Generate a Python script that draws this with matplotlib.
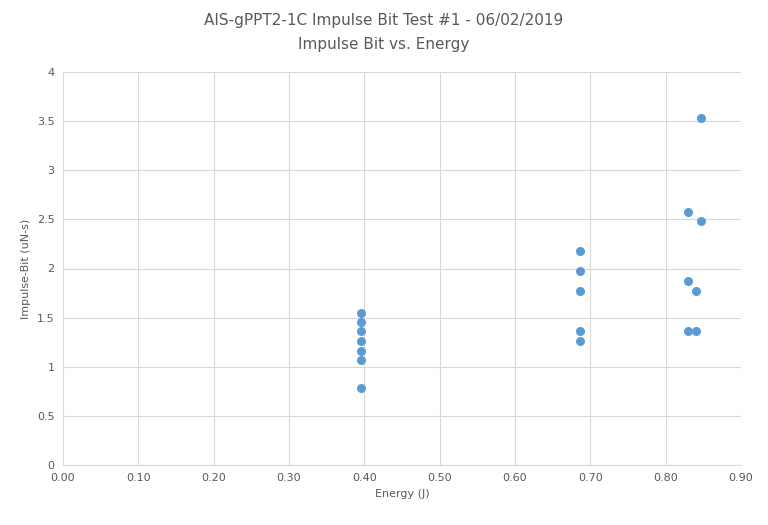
import matplotlib.pyplot as plt
from matplotlib.ticker import FormatStrFormatter

energy = [0.396]*7 + [0.686]*5 + [0.830]*3 + [0.840]*2 + [0.847]*2
impulse = [1.55, 1.46, 1.36, 1.26, 1.16, 1.07, 0.78,
           2.18, 1.97, 1.77, 1.36, 1.26,
           2.57, 1.87, 1.36,
           1.77, 1.36,
           3.53, 2.48]

fig = plt.figure(figsize=(7.68, 5.25), dpi=100)
ax = fig.add_axes([63/768, 60/525, 678/768, 393/525])
ax.scatter(energy, impulse, s=30, color='#5b9bd5', zorder=3)
ax.set_xlim(0, 0.9)
ax.set_ylim(0, 4)
ax.set_xticks([i/10 for i in range(10)])
ax.set_yticks([i/2 for i in range(9)])
ax.xaxis.set_major_formatter(FormatStrFormatter('%.2f'))
ax.set_yticklabels(['0','0.5','1','1.5','2','2.5','3','3.5','4'])
ax.grid(True, color='#d9d9d9', lw=0.8)
for s in ['top','right','left']:
    ax.spines[s].set_visible(False)
ax.spines['bottom'].set_color('#d9d9d9')
ax.tick_params(length=0, labelsize=8, colors='#595959', pad=6)
ax.set_xlabel('Energy (J)', fontsize=8, color='#595959')
ax.set_ylabel('Impulse-Bit (uN-s)', fontsize=8, color='#595959')
fig.text(0.5, 1 - 20/525, 'AIS-gPPT2-1C Impulse Bit Test #1 - 06/02/2019',
         ha='center', va='center', fontsize=11, color='#595959')
fig.text(0.5, 1 - 45/525, 'Impulse Bit vs. Energy',
         ha='center', va='center', fontsize=11, color='#595959')
fig.savefig('out.png', dpi=100)
